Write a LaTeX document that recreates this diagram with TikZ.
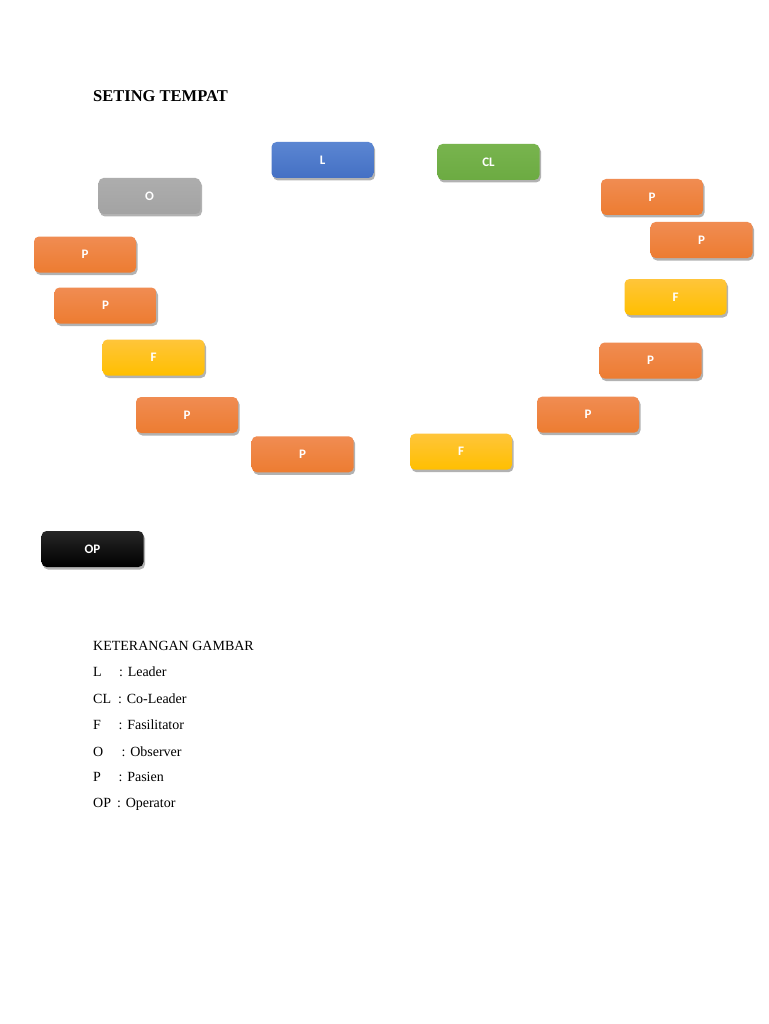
\documentclass[tikz,border=0pt]{standalone}
\usepackage{fontspec}
\setmainfont{Liberation Serif}
\newfontfamily\boxfont{Carlito}
\usetikzlibrary{shadows}
\begin{document}
\begin{tikzpicture}[x=1pt,y=-1pt,
  seat/.style={rounded corners=5pt, minimum width=102pt, minimum height=36pt,
    inner sep=0pt, text=white, font=\boxfont\bfseries\fontsize{13}{15}\selectfont,
    drop shadow={shadow xshift=1.5pt, shadow yshift=-2.5pt, fill=black, opacity=0.3}},
  pseat/.style={seat, top color=orangetop, bottom color=orangebot},
  fseat/.style={seat, top color=yellowtop, bottom color=yellowbot},
  legend/.style={anchor=base west, inner sep=0pt, font=\fontsize{14}{16}\selectfont}
]
\definecolor{orangetop}{HTML}{F08C52}
\definecolor{orangebot}{HTML}{ED7C31}
\definecolor{yellowtop}{HTML}{FFC53A}
\definecolor{yellowbot}{HTML}{FFBF00}
\definecolor{bluetop}{HTML}{5B86D2}
\definecolor{bluebot}{HTML}{4470C4}
\definecolor{greentop}{HTML}{78B44E}
\definecolor{greenbot}{HTML}{6CAB42}
\definecolor{graytop}{HTML}{ADADAD}
\definecolor{graybot}{HTML}{A3A3A3}
\useasboundingbox (0,0) rectangle (768,1024);
\fill[white] (0,0) rectangle (768,1024);

\node[anchor=base west, inner sep=0pt, font=\bfseries\fontsize{16.5}{19}\selectfont] (title) at (93,102) {SETING TEMPAT};

\node[seat, top color=bluetop, bottom color=bluebot] (l) at (322.5,160) {L};
\node[seat, top color=greentop, bottom color=greenbot] (cl) at (488.5,162) {CL};
\node[seat, top color=graytop, bottom color=graybot] (o) at (149.5,196) {O};
\node[pseat] (p1) at (652,197) {P};
\node[pseat] (p2) at (701.5,240) {P};
\node[pseat] (p3) at (85,254.5) {P};
\node[fseat] (f1) at (675.5,297) {F};
\node[pseat] (p4) at (105.5,305.5) {P};
\node[fseat] (f2) at (153.5,357.5) {F};
\node[pseat] (p5) at (650.5,360.5) {P};
\node[pseat] (p6) at (187,415) {P};
\node[pseat] (p7) at (588,414.7) {P};
\node[pseat] (p8) at (302.7,454.3) {P};
\node[fseat] (f3) at (461,451.7) {F};
\node[seat, top color=black!85, bottom color=black] (op) at (92.5,549) {OP};

\node[legend] (kg) at (93,650.7) {KETERANGAN GAMBAR};
\node[legend] (k1) at (93,676.7) {L};
\node[legend] (v1) at (119,676.7) {: Leader};
\node[legend] (k2) at (93,703.3) {CL};
\node[legend] (v2) at (118,703.3) {: Co-Leader};
\node[legend] (k3) at (93,729) {F};
\node[legend] (v3) at (118.5,729) {: Fasilitator};
\node[legend] (k4) at (93,756) {O};
\node[legend] (v4) at (121.5,756) {: Observer};
\node[legend] (k5) at (93,781.7) {P};
\node[legend] (v5) at (118.5,781.7) {: Pasien};
\node[legend] (k6) at (93,807.7) {OP};
\node[legend] (v6) at (117,807.7) {: Operator};
\end{tikzpicture}
\end{document}
